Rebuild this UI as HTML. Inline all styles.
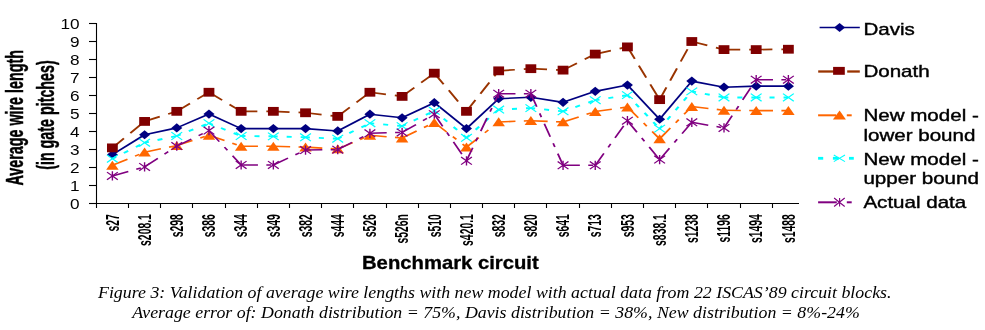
<!DOCTYPE html>
<html><head><meta charset="utf-8"><style>
html,body{margin:0;padding:0;background:#fff;width:985px;height:330px;overflow:hidden}
svg{display:block;will-change:transform}

</style></head><body>
<svg width="985" height="330" viewBox="0 0 985 330">
<rect width="985" height="330" fill="#fff"/>
<line x1="96.5" y1="23" x2="96.5" y2="203.7" stroke="#000" stroke-width="1.1"/>
<line x1="89" y1="203.50" x2="799" y2="203.50" stroke="#000" stroke-width="1.1"/>
<line x1="89" y1="203.50" x2="96.5" y2="203.50" stroke="#000" stroke-width="1.1"/>
<text x="0" y="0" transform="translate(79.6,208.70) scale(1.11,1)" text-anchor="end" font-size="15.5" font-family="Liberation Sans, sans-serif" fill="#000">0</text>
<line x1="89" y1="185.50" x2="96.5" y2="185.50" stroke="#000" stroke-width="1.1"/>
<text x="0" y="0" transform="translate(79.6,190.70) scale(1.11,1)" text-anchor="end" font-size="15.5" font-family="Liberation Sans, sans-serif" fill="#000">1</text>
<line x1="89" y1="167.50" x2="96.5" y2="167.50" stroke="#000" stroke-width="1.1"/>
<text x="0" y="0" transform="translate(79.6,172.70) scale(1.11,1)" text-anchor="end" font-size="15.5" font-family="Liberation Sans, sans-serif" fill="#000">2</text>
<line x1="89" y1="149.50" x2="96.5" y2="149.50" stroke="#000" stroke-width="1.1"/>
<text x="0" y="0" transform="translate(79.6,154.70) scale(1.11,1)" text-anchor="end" font-size="15.5" font-family="Liberation Sans, sans-serif" fill="#000">3</text>
<line x1="89" y1="131.50" x2="96.5" y2="131.50" stroke="#000" stroke-width="1.1"/>
<text x="0" y="0" transform="translate(79.6,136.70) scale(1.11,1)" text-anchor="end" font-size="15.5" font-family="Liberation Sans, sans-serif" fill="#000">4</text>
<line x1="89" y1="113.50" x2="96.5" y2="113.50" stroke="#000" stroke-width="1.1"/>
<text x="0" y="0" transform="translate(79.6,118.70) scale(1.11,1)" text-anchor="end" font-size="15.5" font-family="Liberation Sans, sans-serif" fill="#000">5</text>
<line x1="89" y1="95.50" x2="96.5" y2="95.50" stroke="#000" stroke-width="1.1"/>
<text x="0" y="0" transform="translate(79.6,100.70) scale(1.11,1)" text-anchor="end" font-size="15.5" font-family="Liberation Sans, sans-serif" fill="#000">6</text>
<line x1="89" y1="77.50" x2="96.5" y2="77.50" stroke="#000" stroke-width="1.1"/>
<text x="0" y="0" transform="translate(79.6,82.70) scale(1.11,1)" text-anchor="end" font-size="15.5" font-family="Liberation Sans, sans-serif" fill="#000">7</text>
<line x1="89" y1="59.50" x2="96.5" y2="59.50" stroke="#000" stroke-width="1.1"/>
<text x="0" y="0" transform="translate(79.6,64.70) scale(1.11,1)" text-anchor="end" font-size="15.5" font-family="Liberation Sans, sans-serif" fill="#000">8</text>
<line x1="89" y1="41.50" x2="96.5" y2="41.50" stroke="#000" stroke-width="1.1"/>
<text x="0" y="0" transform="translate(79.6,46.70) scale(1.11,1)" text-anchor="end" font-size="15.5" font-family="Liberation Sans, sans-serif" fill="#000">9</text>
<line x1="89" y1="23.50" x2="96.5" y2="23.50" stroke="#000" stroke-width="1.1"/>
<text x="0" y="0" transform="translate(79.6,28.70) scale(1.11,1)" text-anchor="end" font-size="15.5" font-family="Liberation Sans, sans-serif" fill="#000">10</text>
<line x1="96.50" y1="203.50" x2="96.50" y2="208.00" stroke="#000" stroke-width="1.1"/>
<line x1="128.50" y1="203.50" x2="128.50" y2="208.00" stroke="#000" stroke-width="1.1"/>
<line x1="160.50" y1="203.50" x2="160.50" y2="208.00" stroke="#000" stroke-width="1.1"/>
<line x1="192.50" y1="203.50" x2="192.50" y2="208.00" stroke="#000" stroke-width="1.1"/>
<line x1="225.50" y1="203.50" x2="225.50" y2="208.00" stroke="#000" stroke-width="1.1"/>
<line x1="257.50" y1="203.50" x2="257.50" y2="208.00" stroke="#000" stroke-width="1.1"/>
<line x1="289.50" y1="203.50" x2="289.50" y2="208.00" stroke="#000" stroke-width="1.1"/>
<line x1="321.50" y1="203.50" x2="321.50" y2="208.00" stroke="#000" stroke-width="1.1"/>
<line x1="353.50" y1="203.50" x2="353.50" y2="208.00" stroke="#000" stroke-width="1.1"/>
<line x1="386.50" y1="203.50" x2="386.50" y2="208.00" stroke="#000" stroke-width="1.1"/>
<line x1="418.50" y1="203.50" x2="418.50" y2="208.00" stroke="#000" stroke-width="1.1"/>
<line x1="450.50" y1="203.50" x2="450.50" y2="208.00" stroke="#000" stroke-width="1.1"/>
<line x1="482.50" y1="203.50" x2="482.50" y2="208.00" stroke="#000" stroke-width="1.1"/>
<line x1="514.50" y1="203.50" x2="514.50" y2="208.00" stroke="#000" stroke-width="1.1"/>
<line x1="546.50" y1="203.50" x2="546.50" y2="208.00" stroke="#000" stroke-width="1.1"/>
<line x1="579.50" y1="203.50" x2="579.50" y2="208.00" stroke="#000" stroke-width="1.1"/>
<line x1="611.50" y1="203.50" x2="611.50" y2="208.00" stroke="#000" stroke-width="1.1"/>
<line x1="643.50" y1="203.50" x2="643.50" y2="208.00" stroke="#000" stroke-width="1.1"/>
<line x1="675.50" y1="203.50" x2="675.50" y2="208.00" stroke="#000" stroke-width="1.1"/>
<line x1="707.50" y1="203.50" x2="707.50" y2="208.00" stroke="#000" stroke-width="1.1"/>
<line x1="740.50" y1="203.50" x2="740.50" y2="208.00" stroke="#000" stroke-width="1.1"/>
<line x1="772.50" y1="203.50" x2="772.50" y2="208.00" stroke="#000" stroke-width="1.1"/>
<text x="0" y="0" transform="translate(118.59,214.2) rotate(-90) scale(0.725,1.24)" text-anchor="end" font-size="14.3" font-weight="bold" font-family="Liberation Sans, sans-serif" fill="#000">s27</text>
<text x="0" y="0" transform="translate(150.78,214.2) rotate(-90) scale(0.725,1.24)" text-anchor="end" font-size="14.3" font-weight="bold" font-family="Liberation Sans, sans-serif" fill="#000">s208.1</text>
<text x="0" y="0" transform="translate(182.97,214.2) rotate(-90) scale(0.725,1.24)" text-anchor="end" font-size="14.3" font-weight="bold" font-family="Liberation Sans, sans-serif" fill="#000">s298</text>
<text x="0" y="0" transform="translate(215.16,214.2) rotate(-90) scale(0.725,1.24)" text-anchor="end" font-size="14.3" font-weight="bold" font-family="Liberation Sans, sans-serif" fill="#000">s386</text>
<text x="0" y="0" transform="translate(247.35,214.2) rotate(-90) scale(0.725,1.24)" text-anchor="end" font-size="14.3" font-weight="bold" font-family="Liberation Sans, sans-serif" fill="#000">s344</text>
<text x="0" y="0" transform="translate(279.54,214.2) rotate(-90) scale(0.725,1.24)" text-anchor="end" font-size="14.3" font-weight="bold" font-family="Liberation Sans, sans-serif" fill="#000">s349</text>
<text x="0" y="0" transform="translate(311.73,214.2) rotate(-90) scale(0.725,1.24)" text-anchor="end" font-size="14.3" font-weight="bold" font-family="Liberation Sans, sans-serif" fill="#000">s382</text>
<text x="0" y="0" transform="translate(343.92,214.2) rotate(-90) scale(0.725,1.24)" text-anchor="end" font-size="14.3" font-weight="bold" font-family="Liberation Sans, sans-serif" fill="#000">s444</text>
<text x="0" y="0" transform="translate(376.12,214.2) rotate(-90) scale(0.725,1.24)" text-anchor="end" font-size="14.3" font-weight="bold" font-family="Liberation Sans, sans-serif" fill="#000">s526</text>
<text x="0" y="0" transform="translate(408.30,214.2) rotate(-90) scale(0.725,1.24)" text-anchor="end" font-size="14.3" font-weight="bold" font-family="Liberation Sans, sans-serif" fill="#000">s526n</text>
<text x="0" y="0" transform="translate(440.50,214.2) rotate(-90) scale(0.725,1.24)" text-anchor="end" font-size="14.3" font-weight="bold" font-family="Liberation Sans, sans-serif" fill="#000">s510</text>
<text x="0" y="0" transform="translate(472.68,214.2) rotate(-90) scale(0.725,1.24)" text-anchor="end" font-size="14.3" font-weight="bold" font-family="Liberation Sans, sans-serif" fill="#000">s420.1</text>
<text x="0" y="0" transform="translate(504.88,214.2) rotate(-90) scale(0.725,1.24)" text-anchor="end" font-size="14.3" font-weight="bold" font-family="Liberation Sans, sans-serif" fill="#000">s832</text>
<text x="0" y="0" transform="translate(537.06,214.2) rotate(-90) scale(0.725,1.24)" text-anchor="end" font-size="14.3" font-weight="bold" font-family="Liberation Sans, sans-serif" fill="#000">s820</text>
<text x="0" y="0" transform="translate(569.25,214.2) rotate(-90) scale(0.725,1.24)" text-anchor="end" font-size="14.3" font-weight="bold" font-family="Liberation Sans, sans-serif" fill="#000">s641</text>
<text x="0" y="0" transform="translate(601.44,214.2) rotate(-90) scale(0.725,1.24)" text-anchor="end" font-size="14.3" font-weight="bold" font-family="Liberation Sans, sans-serif" fill="#000">s713</text>
<text x="0" y="0" transform="translate(633.63,214.2) rotate(-90) scale(0.725,1.24)" text-anchor="end" font-size="14.3" font-weight="bold" font-family="Liberation Sans, sans-serif" fill="#000">s953</text>
<text x="0" y="0" transform="translate(665.82,214.2) rotate(-90) scale(0.725,1.24)" text-anchor="end" font-size="14.3" font-weight="bold" font-family="Liberation Sans, sans-serif" fill="#000">s838.1</text>
<text x="0" y="0" transform="translate(698.01,214.2) rotate(-90) scale(0.725,1.24)" text-anchor="end" font-size="14.3" font-weight="bold" font-family="Liberation Sans, sans-serif" fill="#000">s1238</text>
<text x="0" y="0" transform="translate(730.20,214.2) rotate(-90) scale(0.725,1.24)" text-anchor="end" font-size="14.3" font-weight="bold" font-family="Liberation Sans, sans-serif" fill="#000">s1196</text>
<text x="0" y="0" transform="translate(762.39,214.2) rotate(-90) scale(0.725,1.24)" text-anchor="end" font-size="14.3" font-weight="bold" font-family="Liberation Sans, sans-serif" fill="#000">s1494</text>
<text x="0" y="0" transform="translate(794.58,214.2) rotate(-90) scale(0.725,1.24)" text-anchor="end" font-size="14.3" font-weight="bold" font-family="Liberation Sans, sans-serif" fill="#000">s1488</text>
<g transform="scale(1.2,1)">
<line x1="93.66" y1="154.72" x2="120.49" y2="134.74" stroke="#000080" stroke-width="1.6" stroke-dasharray="none" stroke-dashoffset="0"/>
<line x1="120.49" y1="134.74" x2="147.31" y2="127.90" stroke="#000080" stroke-width="1.6" stroke-dasharray="none" stroke-dashoffset="0"/>
<line x1="147.31" y1="127.90" x2="174.14" y2="114.04" stroke="#000080" stroke-width="1.6" stroke-dasharray="none" stroke-dashoffset="0"/>
<line x1="174.14" y1="114.04" x2="200.96" y2="128.62" stroke="#000080" stroke-width="1.6" stroke-dasharray="none" stroke-dashoffset="0"/>
<line x1="200.96" y1="128.62" x2="227.79" y2="128.62" stroke="#000080" stroke-width="1.6" stroke-dasharray="none" stroke-dashoffset="0"/>
<line x1="227.79" y1="128.62" x2="254.61" y2="128.62" stroke="#000080" stroke-width="1.6" stroke-dasharray="none" stroke-dashoffset="0"/>
<line x1="254.61" y1="128.62" x2="281.44" y2="130.96" stroke="#000080" stroke-width="1.6" stroke-dasharray="none" stroke-dashoffset="0"/>
<line x1="281.44" y1="130.96" x2="308.26" y2="114.22" stroke="#000080" stroke-width="1.6" stroke-dasharray="none" stroke-dashoffset="0"/>
<line x1="308.26" y1="114.22" x2="335.09" y2="117.82" stroke="#000080" stroke-width="1.6" stroke-dasharray="none" stroke-dashoffset="0"/>
<line x1="335.09" y1="117.82" x2="361.91" y2="102.70" stroke="#000080" stroke-width="1.6" stroke-dasharray="none" stroke-dashoffset="0"/>
<line x1="361.91" y1="102.70" x2="388.74" y2="128.62" stroke="#000080" stroke-width="1.6" stroke-dasharray="none" stroke-dashoffset="0"/>
<line x1="388.74" y1="128.62" x2="415.56" y2="98.74" stroke="#000080" stroke-width="1.6" stroke-dasharray="none" stroke-dashoffset="0"/>
<line x1="415.56" y1="98.74" x2="442.39" y2="97.30" stroke="#000080" stroke-width="1.6" stroke-dasharray="none" stroke-dashoffset="0"/>
<line x1="442.39" y1="97.30" x2="469.21" y2="102.34" stroke="#000080" stroke-width="1.6" stroke-dasharray="none" stroke-dashoffset="0"/>
<line x1="469.21" y1="102.34" x2="496.04" y2="91.36" stroke="#000080" stroke-width="1.6" stroke-dasharray="none" stroke-dashoffset="0"/>
<line x1="496.04" y1="91.36" x2="522.86" y2="85.06" stroke="#000080" stroke-width="1.6" stroke-dasharray="none" stroke-dashoffset="0"/>
<line x1="522.86" y1="85.06" x2="549.69" y2="119.26" stroke="#000080" stroke-width="1.6" stroke-dasharray="none" stroke-dashoffset="0"/>
<line x1="549.69" y1="119.26" x2="576.51" y2="81.10" stroke="#000080" stroke-width="1.6" stroke-dasharray="none" stroke-dashoffset="0"/>
<line x1="576.51" y1="81.10" x2="603.34" y2="87.22" stroke="#000080" stroke-width="1.6" stroke-dasharray="none" stroke-dashoffset="0"/>
<line x1="603.34" y1="87.22" x2="630.16" y2="86.14" stroke="#000080" stroke-width="1.6" stroke-dasharray="none" stroke-dashoffset="0"/>
<line x1="630.16" y1="86.14" x2="656.99" y2="86.14" stroke="#000080" stroke-width="1.6" stroke-dasharray="none" stroke-dashoffset="0"/>
<polygon points="89.06,154.72 93.66,150.12 98.26,154.72 93.66,159.32" fill="#000080"/>
<polygon points="115.89,134.74 120.49,130.14 125.09,134.74 120.49,139.34" fill="#000080"/>
<polygon points="142.71,127.90 147.31,123.30 151.91,127.90 147.31,132.50" fill="#000080"/>
<polygon points="169.54,114.04 174.14,109.44 178.74,114.04 174.14,118.64" fill="#000080"/>
<polygon points="196.36,128.62 200.96,124.02 205.56,128.62 200.96,133.22" fill="#000080"/>
<polygon points="223.19,128.62 227.79,124.02 232.39,128.62 227.79,133.22" fill="#000080"/>
<polygon points="250.01,128.62 254.61,124.02 259.21,128.62 254.61,133.22" fill="#000080"/>
<polygon points="276.84,130.96 281.44,126.36 286.04,130.96 281.44,135.56" fill="#000080"/>
<polygon points="303.66,114.22 308.26,109.62 312.86,114.22 308.26,118.82" fill="#000080"/>
<polygon points="330.49,117.82 335.09,113.22 339.69,117.82 335.09,122.42" fill="#000080"/>
<polygon points="357.31,102.70 361.91,98.10 366.51,102.70 361.91,107.30" fill="#000080"/>
<polygon points="384.14,128.62 388.74,124.02 393.34,128.62 388.74,133.22" fill="#000080"/>
<polygon points="410.96,98.74 415.56,94.14 420.16,98.74 415.56,103.34" fill="#000080"/>
<polygon points="437.79,97.30 442.39,92.70 446.99,97.30 442.39,101.90" fill="#000080"/>
<polygon points="464.61,102.34 469.21,97.74 473.81,102.34 469.21,106.94" fill="#000080"/>
<polygon points="491.44,91.36 496.04,86.76 500.64,91.36 496.04,95.96" fill="#000080"/>
<polygon points="518.26,85.06 522.86,80.46 527.46,85.06 522.86,89.66" fill="#000080"/>
<polygon points="545.09,119.26 549.69,114.66 554.29,119.26 549.69,123.86" fill="#000080"/>
<polygon points="571.91,81.10 576.51,76.50 581.11,81.10 576.51,85.70" fill="#000080"/>
<polygon points="598.74,87.22 603.34,82.62 607.94,87.22 603.34,91.82" fill="#000080"/>
<polygon points="625.56,86.14 630.16,81.54 634.76,86.14 630.16,90.74" fill="#000080"/>
<polygon points="652.39,86.14 656.99,81.54 661.59,86.14 656.99,90.74" fill="#000080"/>
<line x1="93.66" y1="147.88" x2="120.49" y2="121.42" stroke="#993300" stroke-width="1.7" stroke-dasharray="13.5 7.5" stroke-dashoffset="0"/>
<line x1="120.49" y1="121.42" x2="147.31" y2="111.34" stroke="#993300" stroke-width="1.7" stroke-dasharray="13.5 7.5" stroke-dashoffset="0"/>
<line x1="147.31" y1="111.34" x2="174.14" y2="92.26" stroke="#993300" stroke-width="1.7" stroke-dasharray="13.5 7.5" stroke-dashoffset="0"/>
<line x1="174.14" y1="92.26" x2="200.96" y2="111.34" stroke="#993300" stroke-width="1.7" stroke-dasharray="13.5 7.5" stroke-dashoffset="0"/>
<line x1="200.96" y1="111.34" x2="227.79" y2="111.34" stroke="#993300" stroke-width="1.7" stroke-dasharray="13.5 7.5" stroke-dashoffset="0"/>
<line x1="227.79" y1="111.34" x2="254.61" y2="112.78" stroke="#993300" stroke-width="1.7" stroke-dasharray="13.5 7.5" stroke-dashoffset="0"/>
<line x1="254.61" y1="112.78" x2="281.44" y2="116.38" stroke="#993300" stroke-width="1.7" stroke-dasharray="13.5 7.5" stroke-dashoffset="0"/>
<line x1="281.44" y1="116.38" x2="308.26" y2="92.26" stroke="#993300" stroke-width="1.7" stroke-dasharray="13.5 7.5" stroke-dashoffset="0"/>
<line x1="308.26" y1="92.26" x2="335.09" y2="96.40" stroke="#993300" stroke-width="1.7" stroke-dasharray="13.5 7.5" stroke-dashoffset="0"/>
<line x1="335.09" y1="96.40" x2="361.91" y2="73.18" stroke="#993300" stroke-width="1.7" stroke-dasharray="13.5 7.5" stroke-dashoffset="0"/>
<line x1="361.91" y1="73.18" x2="388.74" y2="111.34" stroke="#993300" stroke-width="1.7" stroke-dasharray="13.5 7.5" stroke-dashoffset="0"/>
<line x1="388.74" y1="111.34" x2="415.56" y2="70.84" stroke="#993300" stroke-width="1.7" stroke-dasharray="13.5 7.5" stroke-dashoffset="0"/>
<line x1="415.56" y1="70.84" x2="442.39" y2="68.68" stroke="#993300" stroke-width="1.7" stroke-dasharray="13.5 7.5" stroke-dashoffset="0"/>
<line x1="442.39" y1="68.68" x2="469.21" y2="70.12" stroke="#993300" stroke-width="1.7" stroke-dasharray="13.5 7.5" stroke-dashoffset="0"/>
<line x1="469.21" y1="70.12" x2="496.04" y2="54.10" stroke="#993300" stroke-width="1.7" stroke-dasharray="13.5 7.5" stroke-dashoffset="0"/>
<line x1="496.04" y1="54.10" x2="522.86" y2="46.90" stroke="#993300" stroke-width="1.7" stroke-dasharray="13.5 7.5" stroke-dashoffset="0"/>
<line x1="522.86" y1="46.90" x2="549.69" y2="99.64" stroke="#993300" stroke-width="1.7" stroke-dasharray="13.5 7.5" stroke-dashoffset="0"/>
<line x1="549.69" y1="99.64" x2="576.51" y2="41.50" stroke="#993300" stroke-width="1.7" stroke-dasharray="13.5 7.5" stroke-dashoffset="0"/>
<line x1="576.51" y1="41.50" x2="603.34" y2="49.60" stroke="#993300" stroke-width="1.7" stroke-dasharray="13.5 7.5" stroke-dashoffset="0"/>
<line x1="603.34" y1="49.60" x2="630.16" y2="49.60" stroke="#993300" stroke-width="1.7" stroke-dasharray="13.5 7.5" stroke-dashoffset="0"/>
<line x1="630.16" y1="49.60" x2="656.99" y2="49.24" stroke="#993300" stroke-width="1.7" stroke-dasharray="13.5 7.5" stroke-dashoffset="0"/>
<rect x="89.16" y="143.48" width="9" height="8.8" fill="#800000"/>
<rect x="115.99" y="117.02" width="9" height="8.8" fill="#800000"/>
<rect x="142.81" y="106.94" width="9" height="8.8" fill="#800000"/>
<rect x="169.64" y="87.86" width="9" height="8.8" fill="#800000"/>
<rect x="196.46" y="106.94" width="9" height="8.8" fill="#800000"/>
<rect x="223.29" y="106.94" width="9" height="8.8" fill="#800000"/>
<rect x="250.11" y="108.38" width="9" height="8.8" fill="#800000"/>
<rect x="276.94" y="111.98" width="9" height="8.8" fill="#800000"/>
<rect x="303.76" y="87.86" width="9" height="8.8" fill="#800000"/>
<rect x="330.59" y="92.00" width="9" height="8.8" fill="#800000"/>
<rect x="357.41" y="68.78" width="9" height="8.8" fill="#800000"/>
<rect x="384.24" y="106.94" width="9" height="8.8" fill="#800000"/>
<rect x="411.06" y="66.44" width="9" height="8.8" fill="#800000"/>
<rect x="437.89" y="64.28" width="9" height="8.8" fill="#800000"/>
<rect x="464.71" y="65.72" width="9" height="8.8" fill="#800000"/>
<rect x="491.54" y="49.70" width="9" height="8.8" fill="#800000"/>
<rect x="518.36" y="42.50" width="9" height="8.8" fill="#800000"/>
<rect x="545.19" y="95.24" width="9" height="8.8" fill="#800000"/>
<rect x="572.01" y="37.10" width="9" height="8.8" fill="#800000"/>
<rect x="598.84" y="45.20" width="9" height="8.8" fill="#800000"/>
<rect x="625.66" y="45.20" width="9" height="8.8" fill="#800000"/>
<rect x="652.49" y="44.84" width="9" height="8.8" fill="#800000"/>
<line x1="93.66" y1="165.34" x2="120.49" y2="152.20" stroke="#FF6600" stroke-width="1.6" stroke-dasharray="14 7 4 7" stroke-dashoffset="0"/>
<line x1="120.49" y1="152.20" x2="147.31" y2="145.54" stroke="#FF6600" stroke-width="1.6" stroke-dasharray="14 7 4 7" stroke-dashoffset="0"/>
<line x1="147.31" y1="145.54" x2="174.14" y2="135.28" stroke="#FF6600" stroke-width="1.6" stroke-dasharray="14 7 4 7" stroke-dashoffset="0"/>
<line x1="174.14" y1="135.28" x2="200.96" y2="146.26" stroke="#FF6600" stroke-width="1.6" stroke-dasharray="14 7 4 7" stroke-dashoffset="0"/>
<line x1="200.96" y1="146.26" x2="227.79" y2="146.26" stroke="#FF6600" stroke-width="1.6" stroke-dasharray="14 7 4 7" stroke-dashoffset="0"/>
<line x1="227.79" y1="146.26" x2="254.61" y2="147.16" stroke="#FF6600" stroke-width="1.6" stroke-dasharray="14 7 4 7" stroke-dashoffset="0"/>
<line x1="254.61" y1="147.16" x2="281.44" y2="148.96" stroke="#FF6600" stroke-width="1.6" stroke-dasharray="14 7 4 7" stroke-dashoffset="0"/>
<line x1="281.44" y1="148.96" x2="308.26" y2="135.28" stroke="#FF6600" stroke-width="1.6" stroke-dasharray="14 7 4 7" stroke-dashoffset="0"/>
<line x1="308.26" y1="135.28" x2="335.09" y2="137.98" stroke="#FF6600" stroke-width="1.6" stroke-dasharray="14 7 4 7" stroke-dashoffset="0"/>
<line x1="335.09" y1="137.98" x2="361.91" y2="122.50" stroke="#FF6600" stroke-width="1.6" stroke-dasharray="14 7 4 7" stroke-dashoffset="0"/>
<line x1="361.91" y1="122.50" x2="388.74" y2="147.16" stroke="#FF6600" stroke-width="1.6" stroke-dasharray="14 7 4 7" stroke-dashoffset="0"/>
<line x1="388.74" y1="147.16" x2="415.56" y2="121.96" stroke="#FF6600" stroke-width="1.6" stroke-dasharray="14 7 4 7" stroke-dashoffset="0"/>
<line x1="415.56" y1="121.96" x2="442.39" y2="120.70" stroke="#FF6600" stroke-width="1.6" stroke-dasharray="14 7 4 7" stroke-dashoffset="0"/>
<line x1="442.39" y1="120.70" x2="469.21" y2="121.96" stroke="#FF6600" stroke-width="1.6" stroke-dasharray="14 7 4 7" stroke-dashoffset="0"/>
<line x1="469.21" y1="121.96" x2="496.04" y2="111.52" stroke="#FF6600" stroke-width="1.6" stroke-dasharray="14 7 4 7" stroke-dashoffset="0"/>
<line x1="496.04" y1="111.52" x2="522.86" y2="107.02" stroke="#FF6600" stroke-width="1.6" stroke-dasharray="14 7 4 7" stroke-dashoffset="0"/>
<line x1="522.86" y1="107.02" x2="549.69" y2="138.88" stroke="#FF6600" stroke-width="1.6" stroke-dasharray="14 7 4 7" stroke-dashoffset="0"/>
<line x1="549.69" y1="138.88" x2="576.51" y2="106.48" stroke="#FF6600" stroke-width="1.6" stroke-dasharray="14 7 4 7" stroke-dashoffset="0"/>
<line x1="576.51" y1="106.48" x2="603.34" y2="110.26" stroke="#FF6600" stroke-width="1.6" stroke-dasharray="14 7 4 7" stroke-dashoffset="0"/>
<line x1="603.34" y1="110.26" x2="630.16" y2="110.62" stroke="#FF6600" stroke-width="1.6" stroke-dasharray="14 7 4 7" stroke-dashoffset="0"/>
<line x1="630.16" y1="110.62" x2="656.99" y2="110.62" stroke="#FF6600" stroke-width="1.6" stroke-dasharray="14 7 4 7" stroke-dashoffset="0"/>
<polygon points="93.66,160.74 98.86,169.74 88.46,169.74" fill="#FF6600"/>
<polygon points="120.49,147.60 125.69,156.60 115.29,156.60" fill="#FF6600"/>
<polygon points="147.31,140.94 152.51,149.94 142.11,149.94" fill="#FF6600"/>
<polygon points="174.14,130.68 179.34,139.68 168.94,139.68" fill="#FF6600"/>
<polygon points="200.96,141.66 206.16,150.66 195.76,150.66" fill="#FF6600"/>
<polygon points="227.79,141.66 232.99,150.66 222.59,150.66" fill="#FF6600"/>
<polygon points="254.61,142.56 259.81,151.56 249.41,151.56" fill="#FF6600"/>
<polygon points="281.44,144.36 286.64,153.36 276.24,153.36" fill="#FF6600"/>
<polygon points="308.26,130.68 313.46,139.68 303.06,139.68" fill="#FF6600"/>
<polygon points="335.09,133.38 340.29,142.38 329.89,142.38" fill="#FF6600"/>
<polygon points="361.91,117.90 367.11,126.90 356.71,126.90" fill="#FF6600"/>
<polygon points="388.74,142.56 393.94,151.56 383.54,151.56" fill="#FF6600"/>
<polygon points="415.56,117.36 420.76,126.36 410.36,126.36" fill="#FF6600"/>
<polygon points="442.39,116.10 447.59,125.10 437.19,125.10" fill="#FF6600"/>
<polygon points="469.21,117.36 474.41,126.36 464.01,126.36" fill="#FF6600"/>
<polygon points="496.04,106.92 501.24,115.92 490.84,115.92" fill="#FF6600"/>
<polygon points="522.86,102.42 528.06,111.42 517.66,111.42" fill="#FF6600"/>
<polygon points="549.69,134.28 554.89,143.28 544.49,143.28" fill="#FF6600"/>
<polygon points="576.51,101.88 581.71,110.88 571.31,110.88" fill="#FF6600"/>
<polygon points="603.34,105.66 608.54,114.66 598.14,114.66" fill="#FF6600"/>
<polygon points="630.16,106.02 635.36,115.02 624.96,115.02" fill="#FF6600"/>
<polygon points="656.99,106.02 662.19,115.02 651.79,115.02" fill="#FF6600"/>
<line x1="93.66" y1="158.68" x2="120.49" y2="142.66" stroke="#00FFFF" stroke-width="1.9" stroke-dasharray="4.2 7.5" stroke-dashoffset="0.6"/>
<line x1="120.49" y1="142.66" x2="147.31" y2="136.00" stroke="#00FFFF" stroke-width="1.9" stroke-dasharray="4.2 7.5" stroke-dashoffset="0.6"/>
<line x1="147.31" y1="136.00" x2="174.14" y2="123.22" stroke="#00FFFF" stroke-width="1.9" stroke-dasharray="4.2 7.5" stroke-dashoffset="0.6"/>
<line x1="174.14" y1="123.22" x2="200.96" y2="136.00" stroke="#00FFFF" stroke-width="1.9" stroke-dasharray="4.2 7.5" stroke-dashoffset="0.6"/>
<line x1="200.96" y1="136.00" x2="227.79" y2="136.36" stroke="#00FFFF" stroke-width="1.9" stroke-dasharray="4.2 7.5" stroke-dashoffset="0.6"/>
<line x1="227.79" y1="136.36" x2="254.61" y2="137.26" stroke="#00FFFF" stroke-width="1.9" stroke-dasharray="4.2 7.5" stroke-dashoffset="0.6"/>
<line x1="254.61" y1="137.26" x2="281.44" y2="138.70" stroke="#00FFFF" stroke-width="1.9" stroke-dasharray="4.2 7.5" stroke-dashoffset="0.6"/>
<line x1="281.44" y1="138.70" x2="308.26" y2="123.22" stroke="#00FFFF" stroke-width="1.9" stroke-dasharray="4.2 7.5" stroke-dashoffset="0.6"/>
<line x1="308.26" y1="123.22" x2="335.09" y2="126.10" stroke="#00FFFF" stroke-width="1.9" stroke-dasharray="4.2 7.5" stroke-dashoffset="0.6"/>
<line x1="335.09" y1="126.10" x2="361.91" y2="110.80" stroke="#00FFFF" stroke-width="1.9" stroke-dasharray="4.2 7.5" stroke-dashoffset="0.6"/>
<line x1="361.91" y1="110.80" x2="388.74" y2="137.80" stroke="#00FFFF" stroke-width="1.9" stroke-dasharray="4.2 7.5" stroke-dashoffset="0.6"/>
<line x1="388.74" y1="137.80" x2="415.56" y2="109.54" stroke="#00FFFF" stroke-width="1.9" stroke-dasharray="4.2 7.5" stroke-dashoffset="0.6"/>
<line x1="415.56" y1="109.54" x2="442.39" y2="108.10" stroke="#00FFFF" stroke-width="1.9" stroke-dasharray="4.2 7.5" stroke-dashoffset="0.6"/>
<line x1="442.39" y1="108.10" x2="469.21" y2="111.34" stroke="#00FFFF" stroke-width="1.9" stroke-dasharray="4.2 7.5" stroke-dashoffset="0.6"/>
<line x1="469.21" y1="111.34" x2="496.04" y2="100.18" stroke="#00FFFF" stroke-width="1.9" stroke-dasharray="4.2 7.5" stroke-dashoffset="0.6"/>
<line x1="496.04" y1="100.18" x2="522.86" y2="95.14" stroke="#00FFFF" stroke-width="1.9" stroke-dasharray="4.2 7.5" stroke-dashoffset="0.6"/>
<line x1="522.86" y1="95.14" x2="549.69" y2="128.62" stroke="#00FFFF" stroke-width="1.9" stroke-dasharray="4.2 7.5" stroke-dashoffset="0.6"/>
<line x1="549.69" y1="128.62" x2="576.51" y2="91.36" stroke="#00FFFF" stroke-width="1.9" stroke-dasharray="4.2 7.5" stroke-dashoffset="0.6"/>
<line x1="576.51" y1="91.36" x2="603.34" y2="97.48" stroke="#00FFFF" stroke-width="1.9" stroke-dasharray="4.2 7.5" stroke-dashoffset="0.6"/>
<line x1="603.34" y1="97.48" x2="630.16" y2="97.48" stroke="#00FFFF" stroke-width="1.9" stroke-dasharray="4.2 7.5" stroke-dashoffset="0.6"/>
<line x1="630.16" y1="97.48" x2="656.99" y2="97.48" stroke="#00FFFF" stroke-width="1.9" stroke-dasharray="4.2 7.5" stroke-dashoffset="0.6"/>
<path d="M89.16,154.88L98.16,162.48M89.16,162.48L98.16,154.88" stroke="#00FFFF" stroke-width="1.1" fill="none"/>
<path d="M115.99,138.86L124.99,146.46M115.99,146.46L124.99,138.86" stroke="#00FFFF" stroke-width="1.1" fill="none"/>
<path d="M142.81,132.20L151.81,139.80M142.81,139.80L151.81,132.20" stroke="#00FFFF" stroke-width="1.1" fill="none"/>
<path d="M169.64,119.42L178.64,127.02M169.64,127.02L178.64,119.42" stroke="#00FFFF" stroke-width="1.1" fill="none"/>
<path d="M196.46,132.20L205.46,139.80M196.46,139.80L205.46,132.20" stroke="#00FFFF" stroke-width="1.1" fill="none"/>
<path d="M223.29,132.56L232.29,140.16M223.29,140.16L232.29,132.56" stroke="#00FFFF" stroke-width="1.1" fill="none"/>
<path d="M250.11,133.46L259.11,141.06M250.11,141.06L259.11,133.46" stroke="#00FFFF" stroke-width="1.1" fill="none"/>
<path d="M276.94,134.90L285.94,142.50M276.94,142.50L285.94,134.90" stroke="#00FFFF" stroke-width="1.1" fill="none"/>
<path d="M303.76,119.42L312.76,127.02M303.76,127.02L312.76,119.42" stroke="#00FFFF" stroke-width="1.1" fill="none"/>
<path d="M330.59,122.30L339.59,129.90M330.59,129.90L339.59,122.30" stroke="#00FFFF" stroke-width="1.1" fill="none"/>
<path d="M357.41,107.00L366.41,114.60M357.41,114.60L366.41,107.00" stroke="#00FFFF" stroke-width="1.1" fill="none"/>
<path d="M384.24,134.00L393.24,141.60M384.24,141.60L393.24,134.00" stroke="#00FFFF" stroke-width="1.1" fill="none"/>
<path d="M411.06,105.74L420.06,113.34M411.06,113.34L420.06,105.74" stroke="#00FFFF" stroke-width="1.1" fill="none"/>
<path d="M437.89,104.30L446.89,111.90M437.89,111.90L446.89,104.30" stroke="#00FFFF" stroke-width="1.1" fill="none"/>
<path d="M464.71,107.54L473.71,115.14M464.71,115.14L473.71,107.54" stroke="#00FFFF" stroke-width="1.1" fill="none"/>
<path d="M491.54,96.38L500.54,103.98M491.54,103.98L500.54,96.38" stroke="#00FFFF" stroke-width="1.1" fill="none"/>
<path d="M518.36,91.34L527.36,98.94M518.36,98.94L527.36,91.34" stroke="#00FFFF" stroke-width="1.1" fill="none"/>
<path d="M545.19,124.82L554.19,132.42M545.19,132.42L554.19,124.82" stroke="#00FFFF" stroke-width="1.1" fill="none"/>
<path d="M572.01,87.56L581.01,95.16M572.01,95.16L581.01,87.56" stroke="#00FFFF" stroke-width="1.1" fill="none"/>
<path d="M598.84,93.68L607.84,101.28M598.84,101.28L607.84,93.68" stroke="#00FFFF" stroke-width="1.1" fill="none"/>
<path d="M625.66,93.68L634.66,101.28M625.66,101.28L634.66,93.68" stroke="#00FFFF" stroke-width="1.1" fill="none"/>
<path d="M652.49,93.68L661.49,101.28M652.49,101.28L661.49,93.68" stroke="#00FFFF" stroke-width="1.1" fill="none"/>
<line x1="93.66" y1="175.96" x2="120.49" y2="166.96" stroke="#800080" stroke-width="1.5" stroke-dasharray="14 7 4 7" stroke-dashoffset="0"/>
<line x1="120.49" y1="166.96" x2="147.31" y2="146.08" stroke="#800080" stroke-width="1.5" stroke-dasharray="14 7 4 7" stroke-dashoffset="0"/>
<line x1="147.31" y1="146.08" x2="174.14" y2="130.60" stroke="#800080" stroke-width="1.5" stroke-dasharray="14 7 4 7" stroke-dashoffset="0"/>
<line x1="174.14" y1="130.60" x2="200.96" y2="164.98" stroke="#800080" stroke-width="1.5" stroke-dasharray="14 7 4 7" stroke-dashoffset="0"/>
<line x1="200.96" y1="164.98" x2="227.79" y2="164.98" stroke="#800080" stroke-width="1.5" stroke-dasharray="14 7 4 7" stroke-dashoffset="0"/>
<line x1="227.79" y1="164.98" x2="254.61" y2="150.04" stroke="#800080" stroke-width="1.5" stroke-dasharray="14 7 4 7" stroke-dashoffset="0"/>
<line x1="254.61" y1="150.04" x2="281.44" y2="149.68" stroke="#800080" stroke-width="1.5" stroke-dasharray="14 7 4 7" stroke-dashoffset="0"/>
<line x1="281.44" y1="149.68" x2="308.26" y2="133.30" stroke="#800080" stroke-width="1.5" stroke-dasharray="14 7 4 7" stroke-dashoffset="0"/>
<line x1="308.26" y1="133.30" x2="335.09" y2="132.40" stroke="#800080" stroke-width="1.5" stroke-dasharray="14 7 4 7" stroke-dashoffset="0"/>
<line x1="335.09" y1="132.40" x2="361.91" y2="114.22" stroke="#800080" stroke-width="1.5" stroke-dasharray="14 7 4 7" stroke-dashoffset="0"/>
<line x1="361.91" y1="114.22" x2="388.74" y2="160.84" stroke="#800080" stroke-width="1.5" stroke-dasharray="14 7 4 7" stroke-dashoffset="0"/>
<line x1="388.74" y1="160.84" x2="415.56" y2="93.70" stroke="#800080" stroke-width="1.5" stroke-dasharray="14 7 4 7" stroke-dashoffset="0"/>
<line x1="415.56" y1="93.70" x2="442.39" y2="93.70" stroke="#800080" stroke-width="1.5" stroke-dasharray="14 7 4 7" stroke-dashoffset="0"/>
<line x1="442.39" y1="93.70" x2="469.21" y2="165.34" stroke="#800080" stroke-width="1.5" stroke-dasharray="14 7 4 7" stroke-dashoffset="0"/>
<line x1="469.21" y1="165.34" x2="496.04" y2="165.34" stroke="#800080" stroke-width="1.5" stroke-dasharray="14 7 4 7" stroke-dashoffset="0"/>
<line x1="496.04" y1="165.34" x2="522.86" y2="120.70" stroke="#800080" stroke-width="1.5" stroke-dasharray="14 7 4 7" stroke-dashoffset="0"/>
<line x1="522.86" y1="120.70" x2="549.69" y2="159.58" stroke="#800080" stroke-width="1.5" stroke-dasharray="14 7 4 7" stroke-dashoffset="0"/>
<line x1="549.69" y1="159.58" x2="576.51" y2="122.32" stroke="#800080" stroke-width="1.5" stroke-dasharray="14 7 4 7" stroke-dashoffset="0"/>
<line x1="576.51" y1="122.32" x2="603.34" y2="127.90" stroke="#800080" stroke-width="1.5" stroke-dasharray="14 7 4 7" stroke-dashoffset="0"/>
<line x1="603.34" y1="127.90" x2="630.16" y2="79.66" stroke="#800080" stroke-width="1.5" stroke-dasharray="14 7 4 7" stroke-dashoffset="0"/>
<line x1="630.16" y1="79.66" x2="656.99" y2="79.66" stroke="#800080" stroke-width="1.5" stroke-dasharray="14 7 4 7" stroke-dashoffset="0"/>
<path d="M89.16,172.16L98.16,179.76M89.16,179.76L98.16,172.16M93.66,171.36L93.66,180.56" stroke="#800080" stroke-width="1.15" fill="none"/>
<path d="M115.99,163.16L124.99,170.76M115.99,170.76L124.99,163.16M120.49,162.36L120.49,171.56" stroke="#800080" stroke-width="1.15" fill="none"/>
<path d="M142.81,142.28L151.81,149.88M142.81,149.88L151.81,142.28M147.31,141.48L147.31,150.68" stroke="#800080" stroke-width="1.15" fill="none"/>
<path d="M169.64,126.80L178.64,134.40M169.64,134.40L178.64,126.80M174.14,126.00L174.14,135.20" stroke="#800080" stroke-width="1.15" fill="none"/>
<path d="M196.46,161.18L205.46,168.78M196.46,168.78L205.46,161.18M200.96,160.38L200.96,169.58" stroke="#800080" stroke-width="1.15" fill="none"/>
<path d="M223.29,161.18L232.29,168.78M223.29,168.78L232.29,161.18M227.79,160.38L227.79,169.58" stroke="#800080" stroke-width="1.15" fill="none"/>
<path d="M250.11,146.24L259.11,153.84M250.11,153.84L259.11,146.24M254.61,145.44L254.61,154.64" stroke="#800080" stroke-width="1.15" fill="none"/>
<path d="M276.94,145.88L285.94,153.48M276.94,153.48L285.94,145.88M281.44,145.08L281.44,154.28" stroke="#800080" stroke-width="1.15" fill="none"/>
<path d="M303.76,129.50L312.76,137.10M303.76,137.10L312.76,129.50M308.26,128.70L308.26,137.90" stroke="#800080" stroke-width="1.15" fill="none"/>
<path d="M330.59,128.60L339.59,136.20M330.59,136.20L339.59,128.60M335.09,127.80L335.09,137.00" stroke="#800080" stroke-width="1.15" fill="none"/>
<path d="M357.41,110.42L366.41,118.02M357.41,118.02L366.41,110.42M361.91,109.62L361.91,118.82" stroke="#800080" stroke-width="1.15" fill="none"/>
<path d="M384.24,157.04L393.24,164.64M384.24,164.64L393.24,157.04M388.74,156.24L388.74,165.44" stroke="#800080" stroke-width="1.15" fill="none"/>
<path d="M411.06,89.90L420.06,97.50M411.06,97.50L420.06,89.90M415.56,89.10L415.56,98.30" stroke="#800080" stroke-width="1.15" fill="none"/>
<path d="M437.89,89.90L446.89,97.50M437.89,97.50L446.89,89.90M442.39,89.10L442.39,98.30" stroke="#800080" stroke-width="1.15" fill="none"/>
<path d="M464.71,161.54L473.71,169.14M464.71,169.14L473.71,161.54M469.21,160.74L469.21,169.94" stroke="#800080" stroke-width="1.15" fill="none"/>
<path d="M491.54,161.54L500.54,169.14M491.54,169.14L500.54,161.54M496.04,160.74L496.04,169.94" stroke="#800080" stroke-width="1.15" fill="none"/>
<path d="M518.36,116.90L527.36,124.50M518.36,124.50L527.36,116.90M522.86,116.10L522.86,125.30" stroke="#800080" stroke-width="1.15" fill="none"/>
<path d="M545.19,155.78L554.19,163.38M545.19,163.38L554.19,155.78M549.69,154.98L549.69,164.18" stroke="#800080" stroke-width="1.15" fill="none"/>
<path d="M572.01,118.52L581.01,126.12M572.01,126.12L581.01,118.52M576.51,117.72L576.51,126.92" stroke="#800080" stroke-width="1.15" fill="none"/>
<path d="M598.84,124.10L607.84,131.70M598.84,131.70L607.84,124.10M603.34,123.30L603.34,132.50" stroke="#800080" stroke-width="1.15" fill="none"/>
<path d="M625.66,75.86L634.66,83.46M625.66,83.46L634.66,75.86M630.16,75.06L630.16,84.26" stroke="#800080" stroke-width="1.15" fill="none"/>
<path d="M652.49,75.86L661.49,83.46M652.49,83.46L661.49,75.86M656.99,75.06L656.99,84.26" stroke="#800080" stroke-width="1.15" fill="none"/>
</g>
<line x1="819.6" y1="27.5" x2="859.8" y2="27.5" stroke="#000080" stroke-width="1.4"/>
<polygon points="834.1,27.5 839.6,23.1 845.1,27.5 839.6,31.9" fill="#000080"/>
<line x1="818.2" y1="71.5" x2="834" y2="71.5" stroke="#993300" stroke-width="2.3"/>
<line x1="847.2" y1="71.5" x2="859.8" y2="71.5" stroke="#993300" stroke-width="2.3"/>
<rect x="833.1" y="66.9" width="11.7" height="7.9" fill="#800000"/>
<line x1="818.1" y1="115.3" x2="836" y2="115.3" stroke="#FF6600" stroke-width="2.0"/>
<line x1="846.8" y1="115.3" x2="851.7" y2="115.3" stroke="#FF6600" stroke-width="2.0"/>
<polygon points="839.6,110.5 845.9,119.5 832.9,119.5" fill="#FF6600"/>
<line x1="818.1" y1="158.3" x2="823.2" y2="158.3" stroke="#00FFFF" stroke-width="2.8"/>
<line x1="832.9" y1="158.3" x2="838.7" y2="158.3" stroke="#00FFFF" stroke-width="2.8"/>
<line x1="849.0" y1="158.3" x2="853.8" y2="158.3" stroke="#00FFFF" stroke-width="2.8"/>
<path d="M833.8,155 L845,161.6 M833.8,161.6 L845,155" stroke="#00FFFF" stroke-width="1.1" fill="none"/>
<line x1="818.1" y1="202.3" x2="836.8" y2="202.3" stroke="#800080" stroke-width="2.0"/>
<line x1="846.8" y1="202.3" x2="851.7" y2="202.3" stroke="#800080" stroke-width="2.0"/>
<path d="M834.1,198 L844.7,206.5 M834.1,206.5 L844.7,198 M839.6,198 L839.6,206.5" stroke="#800080" stroke-width="1.1" fill="none"/>
<text x="0" y="0" transform="translate(863.4,34.5) scale(1.225,1)" font-size="16.8" stroke="#000" stroke-width="0.4" font-family="Liberation Sans, sans-serif" fill="#000">Davis</text>
<text x="0" y="0" transform="translate(863.4,77.2) scale(1.225,1)" font-size="16.8" stroke="#000" stroke-width="0.4" font-family="Liberation Sans, sans-serif" fill="#000">Donath</text>
<text x="0" y="0" transform="translate(863.4,121.4) scale(1.225,1)" font-size="16.8" stroke="#000" stroke-width="0.4" font-family="Liberation Sans, sans-serif" fill="#000">New model -</text>
<text x="0" y="0" transform="translate(863.4,141.0) scale(1.225,1)" font-size="16.8" stroke="#000" stroke-width="0.4" font-family="Liberation Sans, sans-serif" fill="#000">lower bound</text>
<text x="0" y="0" transform="translate(863.4,165.0) scale(1.225,1)" font-size="16.8" stroke="#000" stroke-width="0.4" font-family="Liberation Sans, sans-serif" fill="#000">New model -</text>
<text x="0" y="0" transform="translate(863.4,184.2) scale(1.225,1)" font-size="16.8" stroke="#000" stroke-width="0.4" font-family="Liberation Sans, sans-serif" fill="#000">upper bound</text>
<text x="0" y="0" transform="translate(863.4,208.4) scale(1.225,1)" font-size="16.8" stroke="#000" stroke-width="0.4" font-family="Liberation Sans, sans-serif" fill="#000">Actual data</text>
<text x="0" y="0" transform="translate(23.4,185.5) rotate(-90) scale(1,1.58)" font-size="15" font-weight="bold" font-family="Liberation Sans, sans-serif" stroke="#000" stroke-width="0.3" textLength="135.5" lengthAdjust="spacingAndGlyphs" fill="#000">Average wire length</text>
<text x="0" y="0" transform="translate(54.4,169.8) rotate(-90) scale(1,1.58)" font-size="15" font-weight="bold" font-family="Liberation Sans, sans-serif" stroke="#000" stroke-width="0.3" textLength="109.5" lengthAdjust="spacingAndGlyphs" fill="#000">(in gate pitches)</text>
<text x="362" y="269" font-size="17.8" font-weight="bold" font-family="Liberation Sans, sans-serif" stroke="#000" stroke-width="0.3" textLength="176.7" lengthAdjust="spacingAndGlyphs" fill="#000">Benchmark circuit</text>
<text x="98" y="297.7" font-size="17.3" font-style="italic" font-family="Liberation Serif, serif" textLength="793.5" lengthAdjust="spacingAndGlyphs" fill="#000">Figure 3: Validation of average wire lengths with new model with actual data from 22 ISCAS’89 circuit blocks.</text>
<text x="132.3" y="318.2" font-size="17.3" font-style="italic" font-family="Liberation Serif, serif" textLength="727.5" lengthAdjust="spacingAndGlyphs" fill="#000">Average error of: Donath distribution = 75%, Davis distribution = 38%, New distribution = 8%-24%</text>
</svg>
</body></html>
